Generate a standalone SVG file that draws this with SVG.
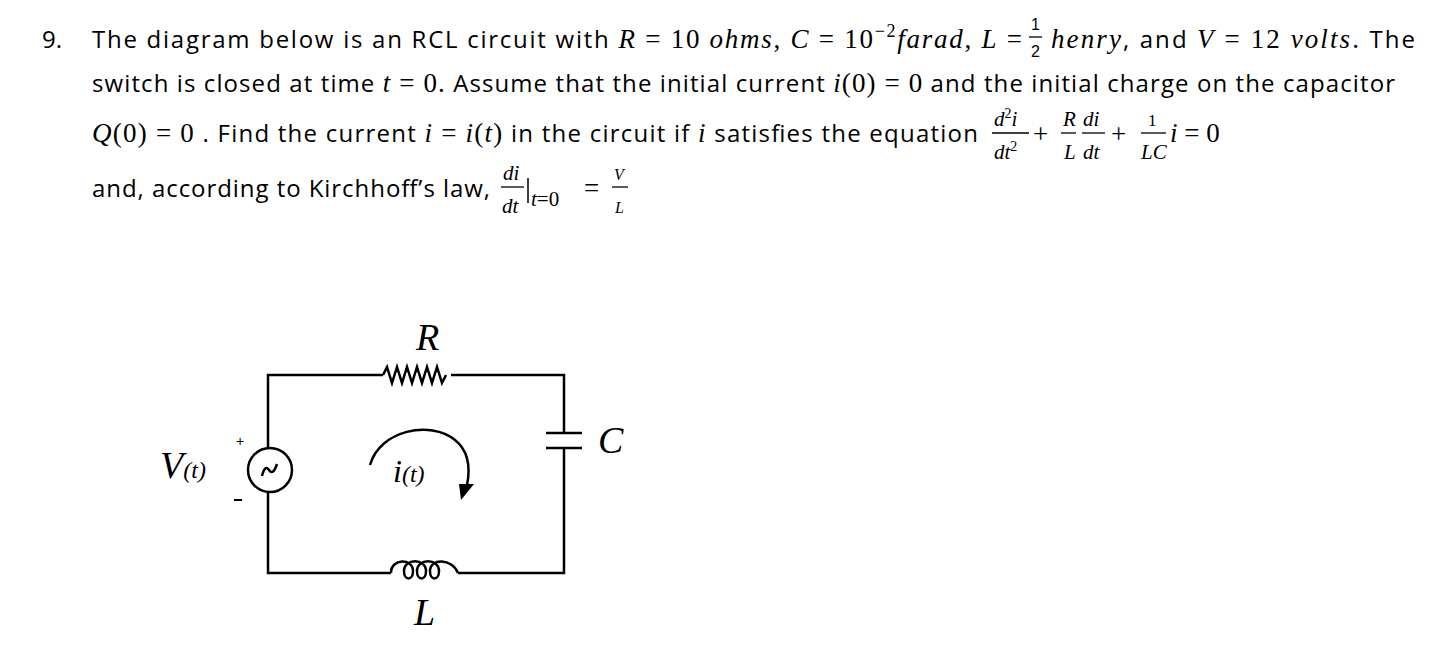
<svg xmlns="http://www.w3.org/2000/svg" width="1446" height="660" viewBox="0 0 1446 660">
<style>
.t{font-family:"Open Sans","Liberation Sans",sans-serif;font-size:24px;fill:#000}
.m{font-family:"Liberation Serif",serif;font-style:italic;font-size:27px}
.n{font-family:"Liberation Serif",serif;font-style:normal;font-size:27px}
.s{font-family:"Liberation Serif",serif;font-style:italic;font-size:21px}
.sup{font-size:14px;font-style:normal}
.lbl{font-family:"Liberation Serif",serif;font-style:italic;font-size:38px;fill:#000}
.w{stroke:#000;stroke-width:2.5;fill:none}
.f{stroke:#000;stroke-width:1.3}
</style>
<rect width="1446" height="660" fill="#fff"/>
<g id="text">
<text class="t" x="42" y="48">9.</text>
<text class="t" x="92" y="48" textLength="930" lengthAdjust="spacing">The diagram below is an RCL circuit with <tspan class="m">R</tspan><tspan class="n"> = 10 </tspan><tspan class="m">ohms</tspan><tspan class="n">, </tspan><tspan class="m">C</tspan><tspan class="n"> = 10</tspan><tspan class="n" style="font-size:18px" dy="-11">−2</tspan><tspan class="m" dy="11">farad</tspan><tspan class="n">, </tspan><tspan class="m">L</tspan><tspan class="n"> =</tspan></text>
<text x="1031" y="30" font-size="16" font-family="Liberation Sans">1</text>
<line class="f" x1="1029" y1="37" x2="1042" y2="37"/>
<text x="1031" y="57" font-size="16" font-family="Liberation Sans">2</text>
<text class="t" x="1051" y="48" textLength="364" lengthAdjust="spacing"><tspan class="m">henry</tspan>, and <tspan class="m">V</tspan><tspan class="n"> = 12 </tspan><tspan class="m">volts</tspan><tspan class="n">.</tspan> The</text>
<text class="t" x="92" y="92" textLength="1303" lengthAdjust="spacing">switch is closed at time <tspan class="m">t</tspan><tspan class="n"> = 0.</tspan> Assume that the initial current <tspan class="m">i</tspan><tspan class="n">(0) = 0</tspan>  and the initial charge on the capacitor</text>
<text class="t" x="92" y="142" textLength="886" lengthAdjust="spacing"><tspan class="m">Q</tspan><tspan class="n">(0) = 0</tspan> . Find the current <tspan class="m">i</tspan><tspan class="n"> = </tspan><tspan class="m">i</tspan><tspan class="n">(</tspan><tspan class="m">t</tspan><tspan class="n">)</tspan> in the circuit if <tspan class="m">i</tspan> satisfies the equation</text>
<g id="eq">
<text class="s" x="994" y="126">d<tspan class="sup" dy="-8">2</tspan><tspan dy="8">i</tspan></text>
<line class="f" x1="992" y1="133" x2="1029" y2="133"/>
<text class="s" x="994" y="159">dt<tspan class="sup" dy="-8">2</tspan></text>
<text class="n" x="1033" y="143">+</text>
<text class="s" x="1063" y="126">R</text><text class="s" x="1083" y="126">di</text>
<line class="f" x1="1061" y1="133" x2="1076" y2="133"/>
<line class="f" x1="1082" y1="133" x2="1105" y2="133"/>
<text class="s" x="1064" y="159">L</text><text class="s" x="1083" y="159">dt</text>
<text class="n" x="1111" y="143">+</text>
<text x="1148" y="126" font-family="Liberation Serif" font-size="17">1</text>
<line class="f" x1="1141" y1="133" x2="1166" y2="133"/>
<text class="s" x="1141" y="159">LC</text>
<text x="1170" y="142"><tspan class="m">i</tspan><tspan class="n"> = 0</tspan></text>
</g>
<text class="t" x="92" y="197" textLength="398" lengthAdjust="spacing">and, according to Kirchhoff’s law,</text>
<text class="s" x="503" y="180">di</text>
<line class="f" x1="501" y1="187" x2="524" y2="187"/>
<text class="s" x="502" y="213">dt</text>
<line x1="528" y1="178" x2="528" y2="203" stroke="#000" stroke-width="1.5"/>
<text class="s" x="531" y="206">t<tspan style="font-style:normal">=0</tspan></text>
<text class="n" x="584" y="197">=</text>
<text x="614" y="180" font-family="Liberation Serif" font-style="italic" font-size="16">V</text>
<line class="f" x1="612" y1="187" x2="628" y2="187"/>
<text x="615" y="213" font-family="Liberation Serif" font-style="italic" font-size="16">L</text>
</g>
<g id="connectors">
<path class="w" d="M383 375 H268 V448 M268 492 V573 H391 M458 573 H564 V448 M564 433 V375 H451"/>
</g>
<g id="resistor"><path class="w" d="M383 375 l4 -8 l5 16 l5 -16 l5 16 l5 -16 l5 16 l5 -16 l5 16 l5 -16 l5 16 l5 -16 l5 16 l4 -8"/><text class="lbl" x="416" y="350">R</text></g>
<g id="capacitor"><path class="w" d="M546 433 H582 M546 448 H582"/><text class="lbl" x="598" y="453">C</text></g>
<g id="inductor"><path class="w" d="M391 573 c0 -15 22 -15 22 -2 c0 10 -9 10 -9 0 c0 -13 22 -13 22 0 c0 10 -9 10 -9 0 c0 -13 22 -13 22 0 c0 10 -9 10 -9 0 c0 -13 22 -13 28 2"/><text class="lbl" x="414" y="625">L</text></g>
<g id="source"><circle class="w" cx="270" cy="470" r="22"/><path d="M262 476 q3 -12 7 -6 q4 6 8 -6" stroke="#000" stroke-width="2.5" fill="none"/>
<text class="lbl" x="160" y="478" font-size="34">V<tspan style="font-size:24px">(t)</tspan></text>
<text x="236" y="446" font-family="Liberation Sans" font-size="14">+</text>
<line x1="234" y1="500" x2="242" y2="500" stroke="#000" stroke-width="2"/></g>
<g id="current"><path class="w" d="M370 465 C380 430 430 420 455 440 C470 452 470 470 467 485"/><polygon points="459,484 474,484 461,500"/>
<text class="lbl" x="393" y="482" style="font-size:32px">i<tspan style="font-size:24px">(t)</tspan></text></g>
</svg>
